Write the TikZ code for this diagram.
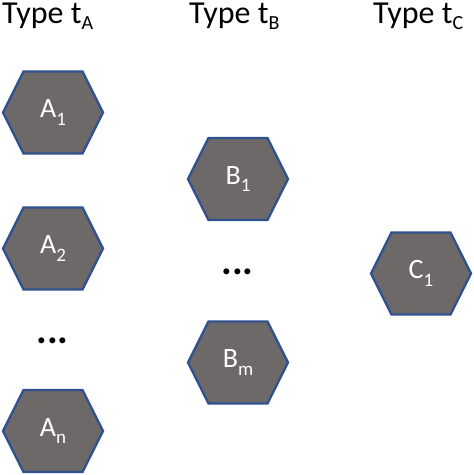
\documentclass[tikz,border=0pt]{standalone}
\usepackage{fontspec}
\setmainfont{Carlito}
\usetikzlibrary{shapes.symbols}
\definecolor{hexfill}{RGB}{108,105,104}
\definecolor{hexline}{RGB}{47,82,143}
\newcommand\hsub[1]{\raisebox{-6.5pt}{\fontsize{20}{20}\selectfont #1}}
\newcommand\lsub[1]{\raisebox{-7.5pt}{\fontsize{19}{19}\selectfont #1}}
\tikzset{
  hexnode/.style={shape=signal, signal to=east and west, signal pointer angle=127,
    fill=hexfill, draw=hexline, line width=2.3pt, minimum width=100pt, minimum height=82pt,
    inner sep=0pt, outer sep=0pt, text=white, font=\fontsize{28}{28}\selectfont},
  head/.style={anchor=base west, inner sep=0pt, font=\fontsize{32}{32}\selectfont},
  dots/.style={inner sep=0pt, font=\bfseries\fontsize{40}{40}\selectfont}
}
\begin{document}
\begin{tikzpicture}[x=1pt,y=-1pt]
\useasboundingbox (0,0) rectangle (474,475);
\node[head] (hA) at (2,23) {Type t\hsub{A}};
\node[head] (hB) at (189,23) {Type t\hsub{B}};
\node[head] (hC) at (373,23) {Type t\hsub{C}};
\node[hexnode] (A1) at (53,112.5) {A\lsub{1}};
\node[hexnode] (A2) at (53,248.5) {A\lsub{2}};
\node[hexnode] (An) at (53,431) {A\lsub{n}};
\node[hexnode] (B1) at (238,179) {B\lsub{1}};
\node[hexnode] (Bm) at (238,362.5) {B\lsub{m}};
\node[hexnode] (C1) at (421,273.5) {C\lsub{1}};
\node[dots] (dA) at (52.5,341) {...};
\node[dots] (dB) at (237.5,272) {...};
\end{tikzpicture}
\end{document}
